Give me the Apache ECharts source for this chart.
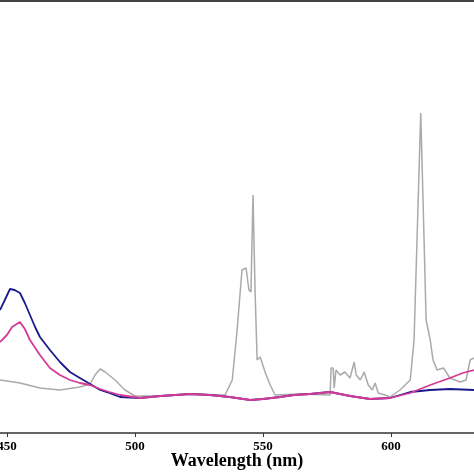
<!DOCTYPE html><html><head><meta charset="utf-8"><script src="https://cdn.jsdelivr.net/npm/echarts@6/dist/echarts.min.js"></script></head><body style="margin:0"><div id="c" style="width:474px;height:474px"></div><script>
const xTicks=[450,500,550,600];
const xTitle='Wavelength (nm)';
const blue=[[447.3,123],[449,132],[451.2,144],[453,143],[455.1,140],[457,130],[459,118],[461,106],[462.9,96],[466.8,83],[470.7,71],[474.6,61],[478.5,55],[482.5,49],[486.4,43],[490,40],[494.2,36],[502,35],[510,37],[521.5,39],[529.3,38],[537,36],[545,33],[550,34],[556.7,36],[562,38],[568.4,39],[576.2,41],[584,37],[591.8,34],[599.6,35],[607.5,41],[615.3,43],[623,44],[632.4,43]];
const pink=[[447.3,91],[450,98],[452,106],[455.1,111],[457,104],[459,93],[462.9,78],[466.8,65],[470.7,58],[474.6,53],[478.5,50],[482.5,48],[486.4,44],[490,41],[494.2,38],[502,35],[510,37],[521.5,39],[529.3,38],[537,36],[545,33],[550,34],[556.7,36],[562,38],[568.4,39],[576.2,41],[584,37],[591.8,34],[599.6,35],[607.5,40],[615.3,48],[623,55],[628,60],[632.4,63]];
const grey=[[447.3,53],[455.1,50],[462.9,45],[470.7,43],[478.5,46],[482.5,49],[484.4,58],[486.4,64],[488.4,61],[492.2,53],[496.1,43],[500,37],[510,37],[521.5,39],[535.2,38],[538,53],[539.9,103],[541.8,163],[543.4,165],[544.5,143],[545.3,141],[546.1,238],[546.9,143],[547.7,73],[548.9,76],[550.8,61],[552.8,48],[554.7,38],[565,39],[576.2,38],[576.6,65],[577.4,65],[577.8,45],[578.5,63],[580.1,58],[582,61],[584,55],[585.6,71],[586.4,58],[588,53],[589.5,61],[591.1,48],[592.7,43],[593.8,50],[595,40],[597.7,38],[599.6,36],[603.5,43],[607.5,53],[609,93],[610.6,233],[611.6,320],[612.5,233],[613.7,113],[615.3,93],[616.4,73],[618,63],[620.5,65],[623,55],[627,51],[629.3,53],[630.9,73],[632.4,75]];
const chart=echarts.init(document.getElementById('c'));
const ff='"Liberation Serif", "Times New Roman", serif';
chart.setOption({animation:false,
title:{text:xTitle,left:'center',top:452,padding:0,textStyle:{color:'#000',fontFamily:ff,fontWeight:'bold',fontSize:18}},
grid:{left:0,right:0,top:2,bottom:41,containLabel:false,outerBoundsMode:'none'},
xAxis:{type:'value',min:447.3,max:632.4,
 axisLine:{show:true,lineStyle:{color:'#333',width:1.5}},
 axisTick:{show:true,customValues:xTicks,length:4,lineStyle:{color:'#333'}},
 axisLabel:{customValues:xTicks,color:'#000',fontFamily:ff,fontWeight:'bold',fontSize:13,margin:7},
 splitLine:{show:false}},
yAxis:{type:'value',min:0,max:431,axisLine:{show:false},axisTick:{show:false},axisLabel:{show:false},splitLine:{show:false}},
graphic:[{type:'rect',shape:{x:0,y:0,width:474,height:2},style:{fill:'#444'}}],
series:[
{type:'line',data:grey,showSymbol:false,lineStyle:{color:'#aaaaaa',width:1.5}},
{type:'line',data:blue,showSymbol:false,lineStyle:{color:'#1a1a8c',width:1.8}},
{type:'line',data:pink,showSymbol:false,lineStyle:{color:'#d63a96',width:1.8}}
]});
</script></body></html>
